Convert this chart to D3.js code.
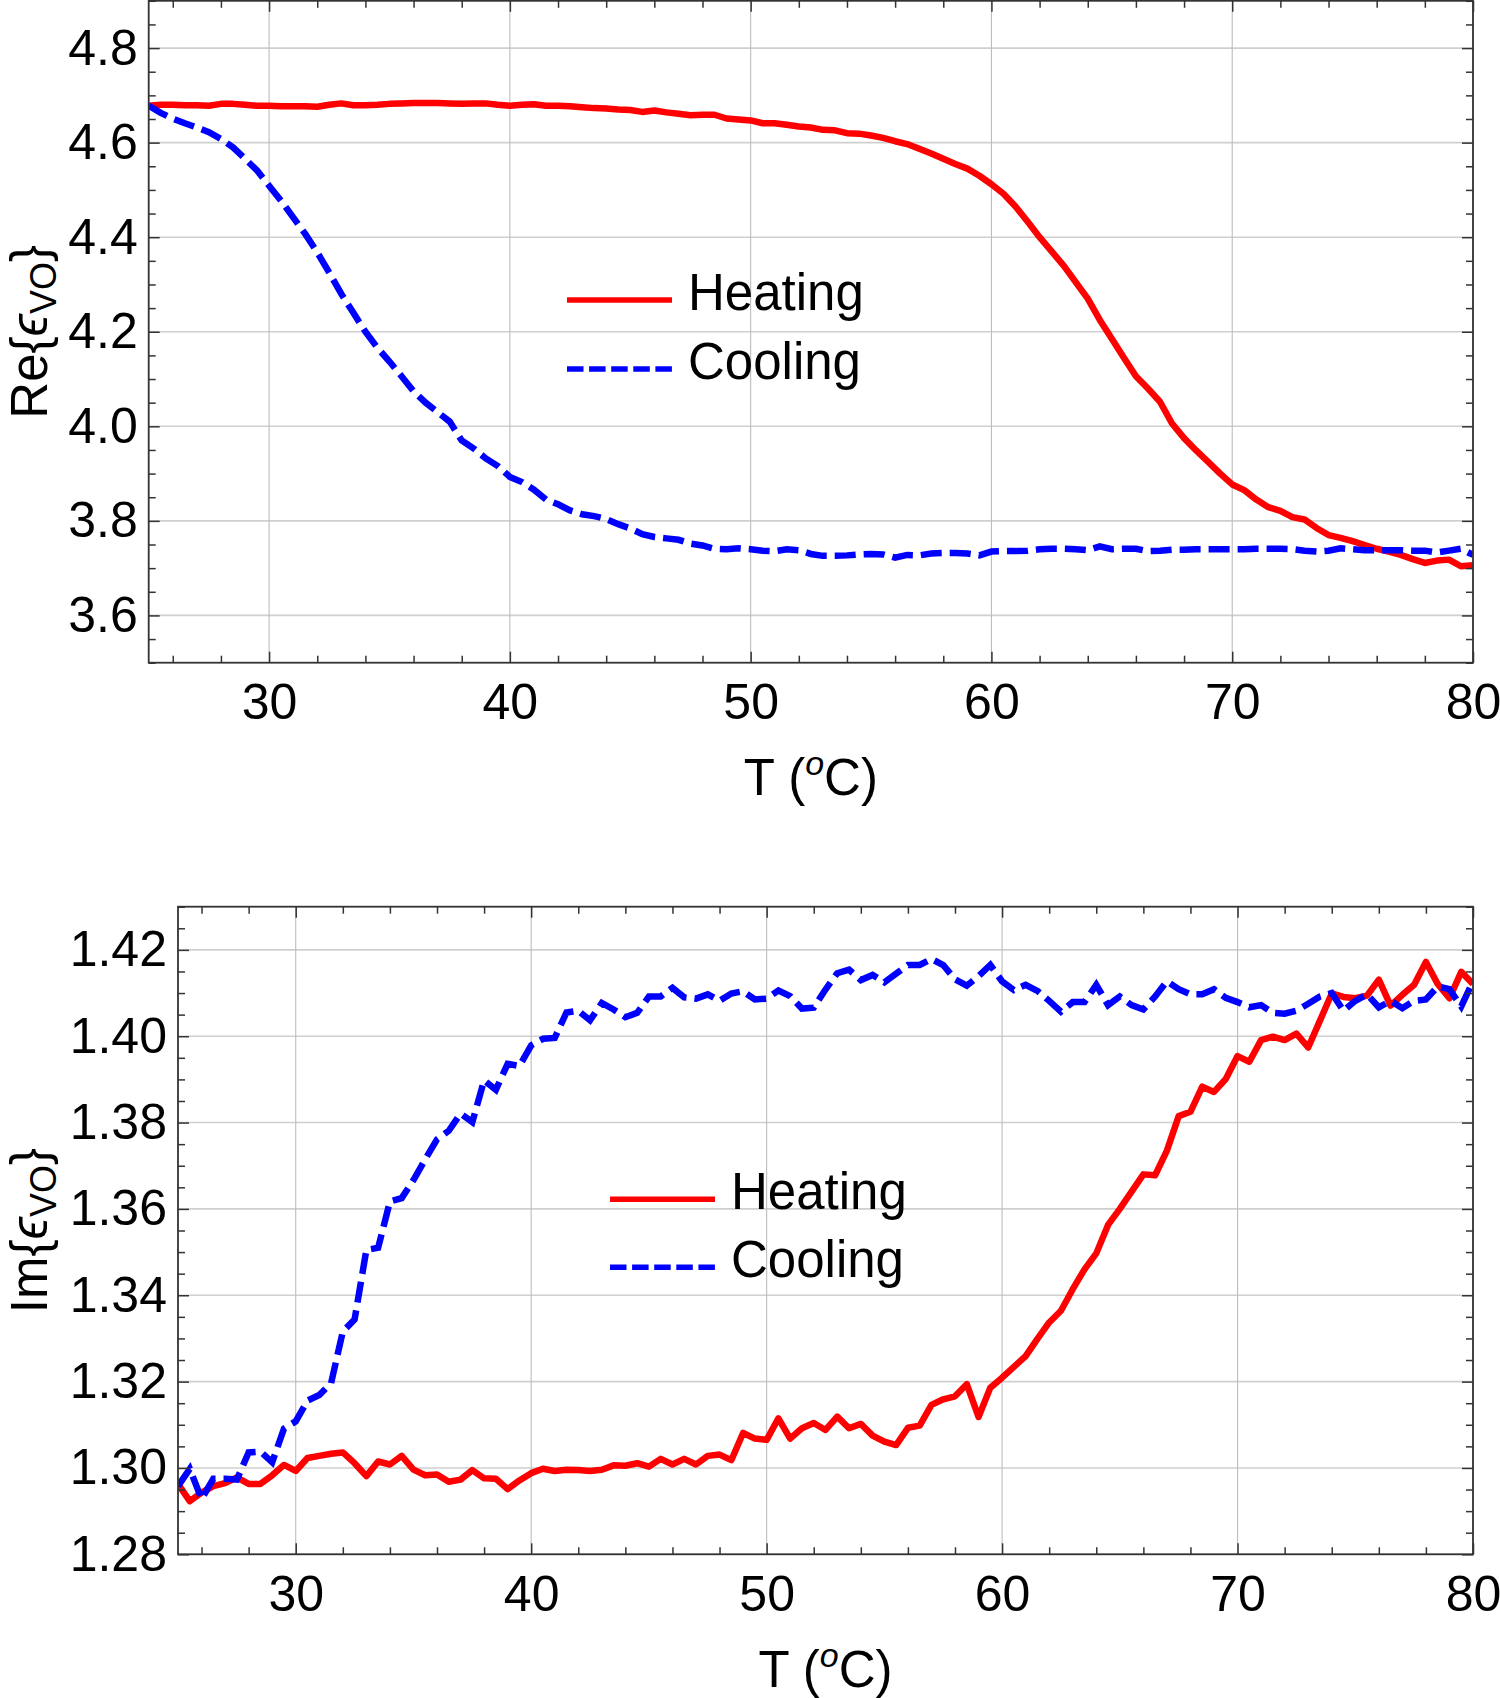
<!DOCTYPE html>
<html>
<head>
<meta charset="utf-8">
<script src="https://cdn.jsdelivr.net/npm/d3@7"></script>
<style>
  body { margin: 0; background: #fff; }
  text { font-family: "Liberation Sans", Arial, sans-serif; fill: #000; }
  .tick text { font-size: 50px; }
  .tick line { stroke: #333; stroke-width: 1.5; }
</style>
</head>
<body>
<svg width="1500" height="1698"></svg>
<script>
const temps = [
  25, 25.5, 26, 26.5, 27, 27.5, 28, 28.5, 29, 29.5,
  30, 30.5, 31, 31.5, 32, 32.5, 33, 33.5, 34, 34.5,
  35, 35.5, 36, 36.5, 37, 37.5, 38, 38.5, 39, 39.5,
  40, 40.5, 41, 41.5, 42, 42.5, 43, 43.5, 44, 44.5,
  45, 45.5, 46, 46.5, 47, 47.5, 48, 48.5, 49, 49.5,
  50, 50.5, 51, 51.5, 52, 52.5, 53, 53.5, 54, 54.5,
  55, 55.5, 56, 56.5, 57, 57.5, 58, 58.5, 59, 59.5,
  60, 60.5, 61, 61.5, 62, 62.5, 63, 63.5, 64, 64.5,
  65, 65.5, 66, 66.5, 67, 67.5, 68, 68.5, 69, 69.5,
  70, 70.5, 71, 71.5, 72, 72.5, 73, 73.5, 74, 74.5,
  75, 75.5, 76, 76.5, 77, 77.5, 78, 78.5, 79, 79.5,
  80
];

const reHeating = [
  4.678, 4.680, 4.680, 4.679, 4.679, 4.678, 4.682, 4.682, 4.680, 4.678,
  4.678, 4.677, 4.677, 4.677, 4.676, 4.680, 4.683, 4.679, 4.679, 4.680,
  4.682, 4.683, 4.684, 4.684, 4.684, 4.683, 4.682, 4.683, 4.683, 4.680,
  4.678, 4.680, 4.681, 4.678, 4.678, 4.677, 4.675, 4.673, 4.672, 4.670,
  4.669, 4.665, 4.668, 4.664, 4.661, 4.658, 4.659, 4.659, 4.651, 4.649,
  4.647, 4.641, 4.641, 4.638, 4.634, 4.632, 4.627, 4.626, 4.620, 4.619,
  4.615, 4.610, 4.603, 4.597, 4.587, 4.577, 4.566, 4.555, 4.545, 4.530,
  4.512, 4.492, 4.465, 4.433, 4.400, 4.370, 4.340, 4.305, 4.270, 4.225,
  4.185, 4.145, 4.106, 4.080, 4.052, 4.006, 3.975, 3.949, 3.925, 3.900,
  3.877, 3.865, 3.845, 3.829, 3.821, 3.808, 3.803, 3.785, 3.770, 3.764,
  3.757, 3.749, 3.741, 3.735, 3.728, 3.719, 3.711, 3.716, 3.718, 3.704,
  3.706
];

const reCooling = [
  4.678, 4.663, 4.651, 4.641, 4.632, 4.622, 4.608, 4.590, 4.566, 4.541,
  4.509, 4.477, 4.442, 4.407, 4.368, 4.325, 4.280, 4.240, 4.200, 4.166,
  4.137, 4.106, 4.074, 4.050, 4.030, 4.010, 3.970, 3.953, 3.932, 3.916,
  3.893, 3.882, 3.866, 3.845, 3.835, 3.822, 3.814, 3.810, 3.804, 3.793,
  3.784, 3.772, 3.766, 3.763, 3.760, 3.752, 3.748, 3.741, 3.740, 3.742,
  3.740, 3.737, 3.736, 3.740, 3.738, 3.730, 3.726, 3.726, 3.727, 3.729,
  3.730, 3.729, 3.722, 3.728, 3.727, 3.731, 3.732, 3.732, 3.731, 3.727,
  3.735, 3.736, 3.736, 3.737, 3.740, 3.741, 3.741, 3.740, 3.738, 3.746,
  3.740, 3.741, 3.741, 3.736, 3.737, 3.739, 3.739, 3.740, 3.740, 3.740,
  3.740, 3.740, 3.741, 3.741, 3.741, 3.740, 3.737, 3.735, 3.737, 3.742,
  3.740, 3.738, 3.738, 3.738, 3.738, 3.737, 3.737, 3.733, 3.737, 3.741,
  3.728
];

const imHeating = [
  1.2963, 1.2923, 1.2943, 1.2958, 1.2965, 1.2978, 1.2963, 1.2963, 1.2983, 1.3007,
  1.2993, 1.3023, 1.3028, 1.3033, 1.3036, 1.3011, 1.2981, 1.3015, 1.3008, 1.3028,
  1.2996, 1.2983, 1.2985, 1.2968, 1.2973, 1.2995, 1.2976, 1.2975, 1.2951, 1.2971,
  1.2988, 1.2998, 1.2993, 1.2996, 1.2995, 1.2993, 1.2996, 1.3006, 1.3005, 1.3011,
  1.3003, 1.3021, 1.3008, 1.3021, 1.3008, 1.3028, 1.3031, 1.3018, 1.3081, 1.3068,
  1.3065, 1.3115, 1.3068, 1.3092, 1.3104, 1.3088, 1.3119, 1.3092, 1.3102, 1.3075,
  1.3061, 1.3053, 1.3093, 1.3098, 1.3146, 1.3159, 1.3166, 1.3194, 1.3118, 1.3186,
  1.3209, 1.3234, 1.3259, 1.3299, 1.3337, 1.3364, 1.3414, 1.3460, 1.3497, 1.3563,
  1.3600, 1.3640, 1.3680, 1.3678, 1.3735, 1.3815, 1.3825, 1.3883, 1.3871, 1.3901,
  1.3954, 1.3941, 1.3991, 1.3999, 1.3991, 1.4006, 1.3974, 1.4036, 1.4099, 1.4091,
  1.4088, 1.4094, 1.4131, 1.4071, 1.4096, 1.4119, 1.4172, 1.4121, 1.4088, 1.4149,
  1.4121
];

const imCooling = [
  1.2958, 1.2998, 1.2928, 1.2975, 1.2975, 1.2973, 1.3036, 1.3038, 1.3013, 1.3091,
  1.3108, 1.3156, 1.3169, 1.3196, 1.3316, 1.3344, 1.3505, 1.3510, 1.3617, 1.3625,
  1.3667, 1.3715, 1.3761, 1.3781, 1.3821, 1.3801, 1.3898, 1.3876, 1.3936, 1.3931,
  1.3979, 1.3994, 1.3996, 1.4055, 1.4059, 1.4037, 1.4077, 1.4062, 1.4044, 1.4054,
  1.4092, 1.4092, 1.4112, 1.4090, 1.4087, 1.4097, 1.4082, 1.4099, 1.4104, 1.4085,
  1.4087, 1.4106, 1.4093, 1.4064, 1.4066, 1.4108, 1.4146, 1.4154, 1.4130, 1.4142,
  1.4125, 1.4145, 1.4165, 1.4165, 1.4179, 1.4165, 1.4132, 1.4117, 1.4139, 1.4165,
  1.4127, 1.4107, 1.4119, 1.4105, 1.4082, 1.4057, 1.4079, 1.4079, 1.4119, 1.4072,
  1.4092, 1.4072, 1.4062, 1.4092, 1.4127, 1.4109, 1.4097, 1.4097, 1.4109, 1.4089,
  1.4079, 1.4067, 1.4072, 1.4054, 1.4052, 1.4059, 1.4075, 1.4092, 1.4100, 1.4059,
  1.4082, 1.4097, 1.4067, 1.4082, 1.4065, 1.4082, 1.4085, 1.4115, 1.4109, 1.4069,
  1.4127
];

const seriesNames = ["Heating", "Cooling"];
const seriesColors = ["#ff0000", "#0000ff"];
const xTicks = [30, 40, 50, 60, 70, 80];
const reTicks = [3.6, 3.8, 4.0, 4.2, 4.4, 4.6, 4.8];
const imTicks = [1.28, 1.30, 1.32, 1.34, 1.36, 1.38, 1.40, 1.42];

let svg = d3.select("svg");

const near = (a, list) => list.some(t => Math.abs(t - a) < 1e-6);

const drawPanel = (p) => {
  let x = d3.scaleLinear().domain([25, 80]).range([p.left, p.right]);
  let y = d3.scaleLinear().domain(p.yDomain).range([p.bottom, p.top]);
  let g = svg.append("g");

  // grid
  g.selectAll(".hgrid").data(p.yTicks).join("line")
    .attr("x1", p.left).attr("x2", p.right)
    .attr("y1", d => y(d)).attr("y2", d => y(d))
    .attr("stroke", "#cfcfcf").attr("stroke-width", 1.6);
  g.selectAll(".vgrid").data(xTicks).join("line")
    .attr("x1", d => x(d)).attr("x2", d => x(d))
    .attr("y1", p.top).attr("y2", p.bottom)
    .attr("stroke", "#bdbdbd").attr("stroke-width", 1.1);

  // curves
  let clipId = "clip" + p.id;
  svg.append("clipPath").attr("id", clipId).append("rect")
    .attr("x", p.left).attr("y", p.top)
    .attr("width", p.right - p.left).attr("height", p.bottom - p.top);

  let line = d3.line().x((d, i) => x(temps[i])).y(d => y(d));
  let plot = g.append("g").attr("clip-path", `url(#${clipId})`);
  plot.append("path").datum(p.heating)
    .attr("d", line).attr("fill", "none")
    .attr("stroke", seriesColors[0]).attr("stroke-width", 6.5)
    .attr("stroke-linejoin", "round");
  plot.append("path").datum(p.cooling)
    .attr("d", line).attr("fill", "none")
    .attr("stroke", seriesColors[1]).attr("stroke-width", 6.5)
    .attr("stroke-dasharray", "21,8");

  // axes
  let minorX = d3.range(26, 80, 2).filter(v => !near(v, xTicks));
  let minorY = d3.range(p.yDomain[0], p.yDomain[1] + 1e-9, p.minorStep).filter(v => !near(v, p.yTicks));

  g.append("g").attr("transform", `translate(0,${p.bottom})`)
    .call(d3.axisBottom(x).tickValues(xTicks).tickSizeInner(-11).tickSizeOuter(0)
      .tickPadding(21).tickFormat(d3.format("d")));
  g.append("g").attr("transform", `translate(0,${p.bottom})`)
    .call(d3.axisBottom(x).tickValues(minorX).tickSize(-7).tickFormat(""));
  g.append("g").attr("transform", `translate(0,${p.top})`)
    .call(d3.axisTop(x).tickValues(xTicks).tickSize(-11).tickFormat(""));
  g.append("g").attr("transform", `translate(0,${p.top})`)
    .call(d3.axisTop(x).tickValues(minorX).tickSize(-7).tickFormat(""));

  g.append("g").attr("transform", `translate(${p.left},0)`)
    .call(d3.axisLeft(y).tickValues(p.yTicks).tickSizeInner(-11).tickSizeOuter(0)
      .tickPadding(11).tickFormat(d3.format(p.fmt)));
  g.append("g").attr("transform", `translate(${p.left},0)`)
    .call(d3.axisLeft(y).tickValues(minorY).tickSize(-7).tickFormat(""));
  g.append("g").attr("transform", `translate(${p.right},0)`)
    .call(d3.axisRight(y).tickValues(p.yTicks).tickSize(-11).tickFormat(""));
  g.append("g").attr("transform", `translate(${p.right},0)`)
    .call(d3.axisRight(y).tickValues(minorY).tickSize(-7).tickFormat(""));

  g.selectAll(".domain").remove();
  g.selectAll(".tick text").attr("font-size", null).attr("font-family", null);

  g.append("rect")
    .attr("x", p.left).attr("y", p.top)
    .attr("width", p.right - p.left).attr("height", p.bottom - p.top)
    .attr("fill", "none").attr("stroke", "#333").attr("stroke-width", 1.8);

  // legend
  let leg = g.append("g").attr("transform", `translate(${p.legend[0]},${p.legend[1]})`);
  seriesNames.forEach((name, i) => {
    let row = leg.append("g").attr("transform", `translate(0,${i * p.legendGap})`);
    row.append("line").attr("x1", 0).attr("x2", 105).attr("y1", 0).attr("y2", 0)
      .attr("stroke", seriesColors[i]).attr("stroke-width", 5.5)
      .attr("stroke-dasharray", i === 1 ? "16.5,5.6" : null);
    row.append("text").attr("x", 121).attr("y", 9.5)
      .attr("font-size", 51).text(name);
  });

  // x title
  let xt = g.append("text")
    .attr("x", (p.left + p.right) / 2).attr("y", p.bottom + 132.5)
    .attr("text-anchor", "middle").attr("font-size", 51);
  xt.append("tspan").text("T (");
  xt.append("tspan").attr("font-style", "italic").attr("font-size", 34)
    .attr("dy", -20).text("o");
  xt.append("tspan").attr("dy", 20).text("C)");

  // y title
  let yt = g.append("text")
    .attr("transform", `translate(47,${(p.top + p.bottom) / 2}) rotate(-90)`)
    .attr("text-anchor", "middle").attr("font-size", 51);
  yt.append("tspan").text(p.yName + "{");
  yt.append("tspan").attr("font-style", "italic").text("\u03F5");
  yt.append("tspan").attr("font-size", 36).attr("dy", 9).text("VO");
  yt.append("tspan").attr("dy", -9).text("}");
};

drawPanel({
  id: "re", left: 148.7, right: 1473, top: 0.8, bottom: 662.7,
  yDomain: [3.5, 4.9], yTicks: reTicks, minorStep: 0.05, fmt: ".1f",
  heating: reHeating, cooling: reCooling, yName: "Re",
  legend: [567, 300], legendGap: 69
});

drawPanel({
  id: "im", left: 178, right: 1473, top: 906.7, bottom: 1554.3,
  yDomain: [1.28, 1.43], yTicks: imTicks, minorStep: 0.005, fmt: ".2f",
  heating: imHeating, cooling: imCooling, yName: "Im",
  legend: [610, 1199.3], legendGap: 68
});
</script>
</body>
</html>
